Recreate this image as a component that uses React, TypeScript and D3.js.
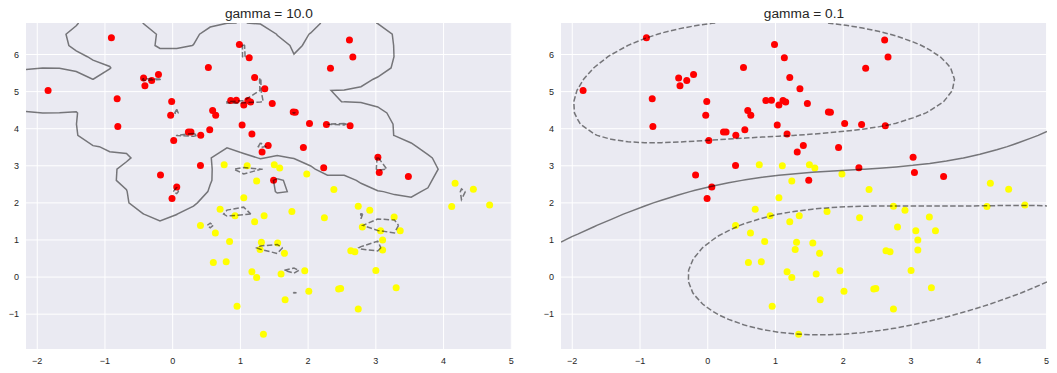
import React from 'react';
import * as d3 from 'd3';

// class 0 (red) and class 1 (yellow)
const redPts = [
  [-0.905, 6.45], [-1.84, 5.03], [-0.82, 4.81], [-0.81, 4.06], [-0.43, 5.37],
  [-0.41, 5.16], [-0.31, 5.30], [-0.21, 5.46], [-0.015, 4.73], [-0.03, 4.36],
  [0.015, 3.68], [-0.18, 2.75], [0.985, 6.27], [1.13, 5.91], [0.527, 5.65],
  [2.33, 5.63], [1.21, 5.38], [1.36, 5.08], [0.857, 4.76], [0.94, 4.77],
  [1.05, 4.64], [1.11, 4.76], [1.15, 4.72], [1.47, 4.68], [0.59, 4.49],
  [0.635, 4.36], [1.78, 4.45], [1.81, 4.44], [2.02, 4.14], [2.27, 4.11],
  [1.025, 4.10], [0.232, 3.91], [0.27, 3.91], [0.547, 3.97], [0.414, 3.82],
  [1.17, 3.86], [1.41, 3.55], [1.32, 3.37], [1.93, 3.49], [0.41, 3.01],
  [2.23, 2.95], [1.49, 2.61], [2.61, 6.39], [2.66, 5.93], [2.62, 4.08],
  [3.03, 3.23], [3.05, 2.82], [3.48, 2.71], [0.06, 2.43], [-0.01, 2.12],
];
const yellowPts = [
  [0.76, 3.03], [1.10, 3.00], [1.50, 3.03], [1.58, 2.94], [1.98, 2.78],
  [1.24, 2.59], [4.17, 2.53], [4.44, 2.37], [1.05, 2.14], [2.38, 2.36],
  [0.70, 1.83], [0.92, 1.65], [1.35, 1.65], [1.76, 1.77], [2.24, 1.60],
  [0.41, 1.39], [1.21, 1.49], [0.63, 1.19], [0.84, 0.96], [1.31, 0.94],
  [1.29, 0.74], [1.55, 0.92], [1.65, 0.64], [0.60, 0.39], [0.79, 0.41],
  [1.17, 0.14], [1.24, -0.01], [1.60, 0.08], [1.95, 0.17], [2.01, -0.38],
  [2.48, -0.31], [1.66, -0.61], [0.95, -0.79], [1.34, -1.54], [2.74, 1.91],
  [2.91, 1.80], [3.27, 1.62], [4.12, 1.90], [4.68, 1.94], [2.80, 1.35],
  [3.07, 1.25], [3.36, 1.25], [3.10, 1.00], [3.10, 0.73], [2.63, 0.71],
  [2.69, 0.68], [3.00, 0.18], [3.30, -0.29], [2.74, -0.86], [2.45, -0.32],
];
const gammas = [10.0, 0.1];
const xTicks = [-2, -1, 0, 1, 2, 3, 4, 5];
const yTicks = [-1, 0, 1, 2, 3, 4, 5, 6];
const levels = [-1, 0, 1];

const W = 1057, H = 373;
const panels = [{ left: 26, right: 511.7 }, { left: 561, right: 1047 }];
const top = 23, bottom = 349;
const GRID = 30;

// rbf SVC, C = 1, trained with a plain smo (maximal violating pair)
function trainSVC(X, y, gamma, C = 1) {
  const n = X.length;
  const K = X.map(a => X.map(b => Math.exp(-gamma * ((a[0] - b[0]) ** 2 + (a[1] - b[1]) ** 2))));
  const alpha = new Array(n).fill(0);
  const G = new Array(n).fill(-1);
  for (let iter = 0; iter < 200000; iter++) {
    let i = -1, j = -1, gmax = -Infinity, gmin = Infinity;
    for (let k = 0; k < n; k++) {
      const v = -y[k] * G[k];
      const up = (y[k] > 0 && alpha[k] < C) || (y[k] < 0 && alpha[k] > 0);
      const low = (y[k] > 0 && alpha[k] > 0) || (y[k] < 0 && alpha[k] < C);
      if (up && v > gmax) { gmax = v; i = k; }
      if (low && v < gmin) { gmin = v; j = k; }
    }
    if (gmax - gmin < 1e-3) break;
    const eta = Math.max(K[i][i] + K[j][j] - 2 * K[i][j], 1e-12);
    let t = (gmax - gmin) / eta;
    t = Math.min(t, y[i] > 0 ? C - alpha[i] : alpha[i], y[j] > 0 ? alpha[j] : C - alpha[j]);
    alpha[i] = Math.min(C, Math.max(0, alpha[i] + y[i] * t));
    alpha[j] = Math.min(C, Math.max(0, alpha[j] - y[j] * t));
    for (let k = 0; k < n; k++) G[k] += t * y[k] * (K[k][i] - K[k][j]);
  }
  let sum = 0, cnt = 0, ub = Infinity, lb = -Infinity;
  for (let k = 0; k < n; k++) {
    const v = -y[k] * G[k];
    if (alpha[k] > 1e-8 && alpha[k] < C - 1e-8) { sum += v; cnt++; }
  }
  let b;
  if (cnt > 0) b = sum / cnt;
  else {
    for (let k = 0; k < n; k++) {
      const v = -y[k] * G[k];
      const up = (y[k] > 0 && alpha[k] < C) || (y[k] < 0 && alpha[k] > 0);
      if (up) lb = Math.max(lb, v); else ub = Math.min(ub, v);
    }
    b = (ub + lb) / 2;
  }
  return p => {
    let s = b;
    for (let k = 0; k < n; k++) {
      if (alpha[k] > 0) s += alpha[k] * y[k] * Math.exp(-gamma * ((p[0] - X[k][0]) ** 2 + (p[1] - X[k][1]) ** 2));
    }
    return s;
  };
}

// d3.contours rings -> open lines, cut where they run outside the grid
function contourLines(values, n, m, level) {
  const mp = d3.contours().size([n, m]).thresholds([level])(values)[0];
  const out = p => p[0] === 0 || p[0] === n || p[1] === 0 || p[1] === m;
  const lines = [];
  for (const poly of mp.coordinates) {
    for (const ring of poly) {
      const pts = ring.slice(0, -1);
      const s = pts.findIndex(out);
      if (s < 0) { lines.push([...pts, pts[0]]); continue; }
      const rot = pts.slice(s).concat(pts.slice(0, s + 1));
      let cur = [];
      for (const p of rot) {
        if (out(p)) { if (cur.length > 1) lines.push(cur); cur = []; }
        else cur.push(p);
      }
    }
  }
  return lines;
}

const allPts = redPts.concat(yellowPts);
const labels = redPts.map(() => -1).concat(yellowPts.map(() => 1));

function pad([a, b]) {
  const d = (b - a) * 0.05;
  return [a - d, b + d];
}
const xlim = pad(d3.extent(allPts, d => d[0]));
const ylim = pad(d3.extent(allPts, d => d[1]));

const Panel = ({ idx, gamma }) => {
  const { left, right } = panels[idx];
  const x = d3.scaleLinear().domain(xlim).range([left, right]);
  const y = d3.scaleLinear().domain(ylim).range([bottom, top]);
  const f = trainSVC(allPts, labels, gamma);
  const gx = d3.range(GRID).map(i => xlim[0] + (i * (xlim[1] - xlim[0])) / (GRID - 1));
  const gy = d3.range(GRID).map(j => ylim[0] + (j * (ylim[1] - ylim[0])) / (GRID - 1));
  const values = [];
  for (let j = 0; j < GRID; j++) for (let i = 0; i < GRID; i++) values.push(f([gx[i], gy[j]]));
  const toData = p => [
    xlim[0] + (p[0] - 0.5) * (xlim[1] - xlim[0]) / (GRID - 1),
    ylim[0] + (p[1] - 0.5) * (ylim[1] - ylim[0]) / (GRID - 1),
  ];
  const line = d3.line().x(p => x(toData(p)[0])).y(p => y(toData(p)[1]));
  const clipId = `clip-${idx}`;
  return (
    <g>
      <defs>
        <clipPath id={clipId}>
          <rect x={left} y={top} width={right - left} height={bottom - top} />
        </clipPath>
      </defs>
      <rect x={left} y={top} width={right - left} height={bottom - top} fill="#EAEAF2" />
      {xTicks.map(t => (
        <g key={`x${t}`}>
          <line x1={x(t)} x2={x(t)} y1={top} y2={bottom} stroke="#fff" strokeWidth={1} />
          <text x={x(t)} y={bottom + 12} dy="0.35em" textAnchor="middle" fontSize={9} fill="#262626">
            {t < 0 ? `\u2212${-t}` : t}
          </text>
        </g>
      ))}
      {yTicks.map(t => (
        <g key={`y${t}`}>
          <line x1={left} x2={right} y1={y(t)} y2={y(t)} stroke="#fff" strokeWidth={1} />
          <text x={left - 7} y={y(t)} dy="0.35em" textAnchor="end" fontSize={9} fill="#262626">
            {t < 0 ? `\u2212${-t}` : t}
          </text>
        </g>
      ))}
      <g clipPath={`url(#${clipId})`}>
        {redPts.map((p, k) => <circle key={`r${k}`} cx={x(p[0])} cy={y(p[1])} r={3.5} fill="#FF0000" />)}
        {yellowPts.map((p, k) => <circle key={`y${k}`} cx={x(p[0])} cy={y(p[1])} r={3.5} fill="#FFFF00" />)}
        {levels.map(lv =>
          contourLines(values, GRID, GRID, lv).map((ln, k) => (
            <path key={`c${lv}-${k}`} d={line(ln)} fill="none" stroke="#000" strokeOpacity={0.5}
              strokeWidth={1.5} strokeDasharray={lv === 0 ? null : '5.5,2.4'} />
          ))
        )}
      </g>
      <text x={(left + right) / 2} y={18} textAnchor="middle" fontSize={13.7} fill="#262626">
        {`gamma = ${gamma.toFixed(1)}`}
      </text>
    </g>
  );
};

export default function App() {
  return (
    <svg width={W} height={H} style={{ position: 'absolute', left: 0, top: 0, background: '#fff' }}
      fontFamily="'Liberation Sans', Arial, sans-serif">
      {gammas.map((g, i) => <Panel key={i} idx={i} gamma={g} />)}
    </svg>
  );
}
